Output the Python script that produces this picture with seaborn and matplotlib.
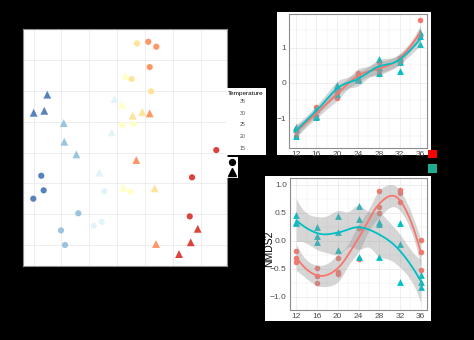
import numpy as np
import pandas as pd
import matplotlib
matplotlib.use("Agg")
import matplotlib.pyplot as plt
from matplotlib.colors import LinearSegmentedColormap
from matplotlib.patches import Rectangle
import seaborn as sns

# ---------------- data ----------------
temps = [12, 16, 20, 24, 28, 32, 36]
groups = ["A", "B"]

# NMDS scores, three replicates per temperature (A = circles, B = triangles)
nmds1_a = [-1.363, -1.320, -1.506, -0.698, -1.009, -0.937, -0.232, -0.278, -0.422,
           0.092, 0.284, 0.235, 0.355, 0.260, 0.607, 0.558, 0.702, 0.583,
           1.779, 1.343, 1.302]
nmds2_a = [-0.189, -0.308, -0.376, -0.495, -0.634, -0.753, -0.316, -0.564, -0.596,
           0.224, 0.232, -0.319, 0.889, 0.599, 0.498, 0.902, 0.862, 0.696,
           0.020, -0.202, -0.520]
nmds1_b = [-1.255, -1.499, -1.309, -0.960, -0.950, -0.734, -0.052, -0.099, -0.321,
           0.145, 0.086, 0.110, 0.278, 0.451, 0.673, 0.583, 0.343, 0.697,
           1.445, 1.320, 1.110]
nmds2_b = [0.471, 0.324, 0.340, 0.240, 0.088, -0.015, 0.436, 0.164, -0.164,
           0.625, 0.389, -0.287, 0.300, 0.330, -0.292, 0.319, -0.061, -0.745,
           -0.621, -0.731, -0.827]

temp_rep = np.repeat(temps, 3)
df = pd.DataFrame({
    "Temperature": np.concatenate([temp_rep, temp_rep]),
    "Group": ["A"] * 21 + ["B"] * 21,
    "NMDS1": nmds1_a + nmds1_b,
    "NMDS2": nmds2_a + nmds2_b,
})

cbar_ticks = [15, 20, 25, 30, 35]
top_yticks = [-1, 0, 1]
bot_yticks = [-1.0, -0.5, 0.0, 0.5, 1.0]
bot_ylabels = ["\u22121.0", "\u22120.5", "0.0", "0.5", "1.0"]

# ---------------- style ----------------
sns.set_style("white")
plt.rcParams["font.family"] = ["Liberation Sans", "DejaVu Sans"]

W, H = 474, 340
fig = plt.figure(figsize=(W / 100, H / 100), dpi=100, facecolor="black")


def box(x0, y0, x1, y1):
    return [x0 / W, 1 - y1 / H, (x1 - x0) / W, (y1 - y0) / H]


def white_rect(x0, y0, x1, y1, color="white", z=0):
    fig.add_artist(Rectangle((x0 / W, 1 - y1 / H), (x1 - x0) / W, (y1 - y0) / H,
                             transform=fig.transFigure, facecolor=color,
                             edgecolor="none", zorder=z))


temp_cmap = LinearSegmentedColormap.from_list(
    "rdylbu7", ["#4575B4", "#91BFDB", "#E0F3F8", "#FFFFBF", "#FEE090", "#FC8D59", "#D73027"])
grid_c = "#EBEBEB"
border_c = "#8C8C8C"
text_c = "#4D4D4D"
red, teal = "#F8766D", "#00BFC4"
marker_of = {"A": "o", "B": "^"}


def style_panel(ax):
    for sp in ax.spines.values():
        sp.set_color(border_c)
        sp.set_linewidth(0.8)
    ax.set_facecolor("white")
    ax.set_axisbelow(True)


# ---------------- loess (local quadratic, tricube weights) ----------------
def loess_band(x, y, xs, span=0.75):
    x = np.asarray(x, float)
    y = np.asarray(y, float)
    n = len(x)
    q = int(np.floor(n * span))
    verts = np.unique(x)
    F, D = [], []
    for x0 in verts:
        d = np.abs(x - x0)
        h = np.sort(d)[q - 1]
        w = np.where(d < h, (1 - (d / h) ** 3) ** 3, 0.0)
        X = np.column_stack([np.ones(n), x - x0, (x - x0) ** 2])
        XtW = X.T * w
        A = np.linalg.pinv(XtW @ X) @ XtW
        F.append(A[0])
        D.append(A[1])
    F, D = np.array(F), np.array(D)

    def rows(xq):
        out = []
        for xx in xq:
            k = min(np.searchsorted(verts, xx, side="right") - 1, len(verts) - 2)
            k = max(k, 0)
            hk = verts[k + 1] - verts[k]
            t = (xx - verts[k]) / hk
            h00 = 2 * t**3 - 3 * t**2 + 1
            h10 = t**3 - 2 * t**2 + t
            h01 = -2 * t**3 + 3 * t**2
            h11 = t**3 - t**2
            out.append(h00 * F[k] + h10 * hk * D[k] + h01 * F[k + 1] + h11 * hk * D[k + 1])
        return np.array(out)

    L = rows(x)
    IL = np.eye(n) - L
    M = IL.T @ IL
    d1 = np.trace(M)
    d2 = np.trace(M @ M)
    sigma = np.sqrt(np.sum((IL @ y) ** 2) / d1)
    dof = d1 ** 2 / d2
    z = 1.959964
    tq = (z + (z**3 + z) / (4 * dof) + (5 * z**5 + 16 * z**3 + 3 * z) / (96 * dof**2)
          + (3 * z**7 + 19 * z**5 + 17 * z**3 - 15 * z) / (384 * dof**3))
    Lq = rows(xs)
    fit = Lq @ y
    se = sigma * np.sqrt(np.sum(Lq ** 2, axis=1))
    return fit, fit - tq * se, fit + tq * se


# ---------------- backgrounds of the right-hand plots ----------------
white_rect(277, 12.5, 431, 155.5)
white_rect(265, 176, 431, 321)

# ---------------- left: NMDS ordination ----------------
axL = fig.add_axes(box(23, 29, 227, 266))
style_panel(axL)
for v in np.arange(-1.5, 1.51, 0.5):
    axL.axvline(v, color=grid_c, lw=0.6, zorder=0)
for v in np.arange(-0.75, 0.76, 0.25):
    axL.axhline(v, color=grid_c, lw=0.6, zorder=0)
for g, size in zip(groups, [20, 32]):
    sns.scatterplot(data=df[df["Group"] == g], x="NMDS1", y="NMDS2", hue="Temperature",
                    palette=temp_cmap, hue_norm=(12, 36), marker=marker_of[g],
                    s=size, linewidth=0, alpha=0.9, legend=False, ax=axL, zorder=3)
axL.set_xlim(-1.691, 1.971)
axL.set_ylim(-0.924, 1.006)
axL.set_xticks([])
axL.set_yticks([])
axL.set_xlabel("")
axL.set_ylabel("")

# temperature colour bar legend
white_rect(226, 88, 266, 155.5, z=1)
fig.text(228 / W, 1 - 94 / H, "Temperature", fontsize=4.6, color="black",
         ha="left", va="center")
axC = fig.add_axes(box(228, 99.5, 235.3, 155))
axC.imshow(np.linspace(12, 36, 256)[:, None], origin="lower", aspect="auto",
           cmap=temp_cmap, extent=(0, 1, 12, 36))
axC.set_ylim(12, 36)
axC.set_xlim(0, 1)
for v in cbar_ticks:
    axC.plot([0, 0.2], [v, v], color="white", lw=0.5)
    axC.plot([0.8, 1], [v, v], color="white", lw=0.5)
    ypx = 155 - (v - 12) / 24 * 55.5
    fig.text(240 / W, 1 - ypx / H, str(v), fontsize=3.8, color=text_c,
             ha="left", va="center")
axC.axis("off")

# shape legend keys
white_rect(225.3, 157, 238, 178, z=1)
fig.lines.append(plt.Line2D([232 / W], [1 - 161.7 / H], marker="o", markersize=4.2,
                            color="black", transform=fig.transFigure))
fig.lines.append(plt.Line2D([232 / W], [1 - 172 / H], marker="^", markersize=5.4,
                            color="black", transform=fig.transFigure))


# ---------------- right: scores against temperature ----------------
def trend_panel(ax, col, yticks, ylabels, ylim):
    style_panel(ax)
    for v in np.arange(12, 37, 4):
        ax.axvline(v, color=grid_c, lw=0.6, zorder=0)
    for v in np.arange(14, 36, 4):
        ax.axvline(v, color=grid_c, lw=0.35, zorder=0)
    step = yticks[1] - yticks[0]
    for v in yticks:
        ax.axhline(v, color=grid_c, lw=0.6, zorder=0)
    for v in np.arange(yticks[0] - step / 2, yticks[-1] + step, step):
        ax.axhline(v, color=grid_c, lw=0.35, zorder=0)
    for g, c, size in zip(groups, [red, teal], [16, 24]):
        sns.scatterplot(data=df[df["Group"] == g], x="Temperature", y=col, color=c,
                        marker=marker_of[g], s=size, linewidth=0, legend=False,
                        ax=ax, zorder=2)
    xs = np.linspace(12, 36, 241)
    for g, c in zip(groups, [red, teal]):
        sub = df[df["Group"] == g]
        fit, lo, hi = loess_band(sub["Temperature"], sub[col], xs)
        ax.fill_between(xs, lo, hi, color="#999999", alpha=0.4, lw=0, zorder=3)
        ax.plot(xs, fit, color=c, lw=1.3, zorder=4)
    ax.set_xlim(10.8, 37.2)
    ax.set_ylim(*ylim)
    ax.set_xticks(temps)
    ax.set_xticklabels([str(t) for t in temps])
    ax.set_yticks(yticks)
    ax.set_yticklabels(ylabels)
    ax.tick_params(axis="both", length=1.5, width=0.5, color="#333333", pad=0.8,
                   labelsize=6, labelcolor=text_c)
    ax.set_xlabel("")
    ax.set_ylabel("")


axT = fig.add_axes(box(289.3, 14.3, 426.7, 148.3))
trend_panel(axT, "NMDS1", top_yticks, ["\u22121", "0", "1"], (-1.86, 1.95))

axB = fig.add_axes(box(290, 178, 427, 310))
trend_panel(axB, "NMDS2", bot_yticks, bot_ylabels, (-1.24, 1.125))

fig.text(269.5 / W, 1 - 249 / H, "NMDS2", rotation=90, fontsize=7.5, color="black",
         ha="center", va="center")
fig.text(271 / W, 1 - 16 / H, "D", fontsize=10, fontweight="bold", color="black",
         ha="center", va="center")

# group colour keys
white_rect(428.3, 150, 437.3, 158.3, color="#FF0000", z=2)
white_rect(428.3, 164.3, 437.3, 172.7, color="#1EAE8F", z=2)

fig.savefig("out.png", dpi=100, facecolor="black")
